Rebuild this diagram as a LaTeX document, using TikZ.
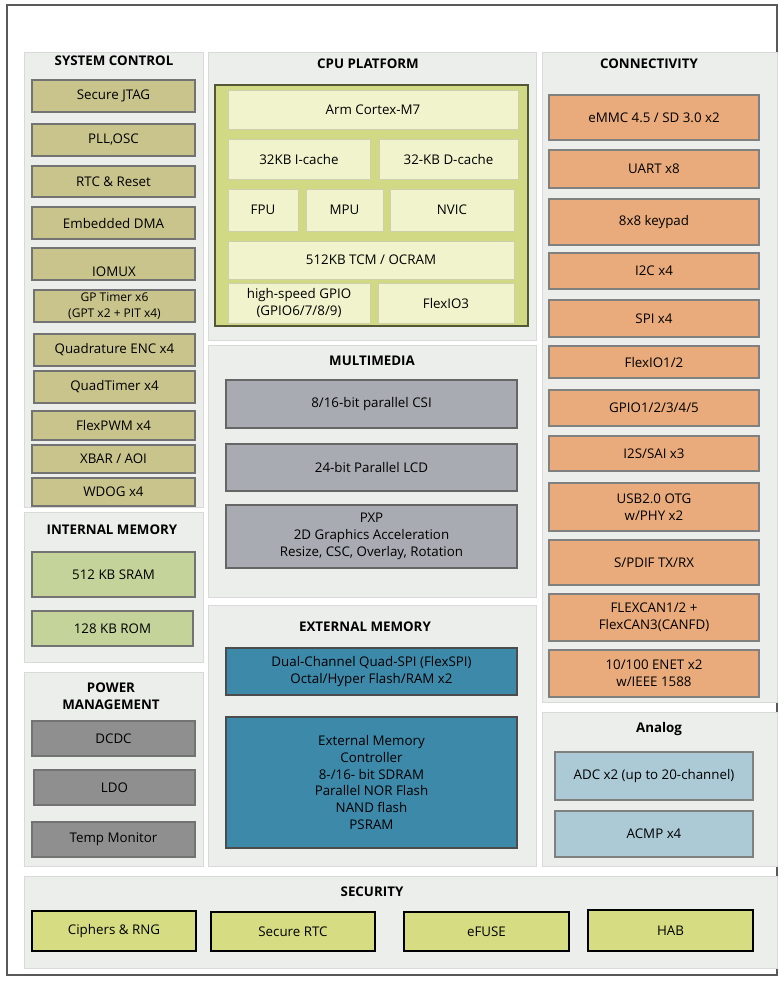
\documentclass[tikz,border=0pt]{standalone}
\usepackage{fontspec}
\setmainfont{Open Sans}
\definecolor{panel}{HTML}{ECEEEC}
\definecolor{sysc}{HTML}{C9C48C}
\definecolor{memc}{HTML}{C3D39A}
\definecolor{pwrc}{HTML}{8F8F8F}
\definecolor{cpuo}{HTML}{D2D985}
\definecolor{cpui}{HTML}{F1F3CC}
\definecolor{mmc}{HTML}{A8ABB2}
\definecolor{extc}{HTML}{3D89AA}
\definecolor{conc}{HTML}{E9AB7B}
\definecolor{anc}{HTML}{ABCAD6}
\definecolor{secc}{HTML}{D5DC82}
\newcommand{\bx}[7]{\node[#6, minimum width={(#4-#2)*0.75pt}, minimum height={(#5-#3)*0.75pt}, inner sep=0pt, align=center] (#1) at ({(#2+#4)/2},{(#3+#5)/2}) {#7};}
\begin{document}
\begin{tikzpicture}[x=0.75pt,y=-0.75pt,font=\fontsize{10}{12.5}\selectfont,
 pan/.style={fill=panel,draw=white!85!black,line width=0.6pt},
 ttl/.style={font=\fontsize{10}{12.5}\selectfont\bfseries,align=center},
 sys/.style={fill=sysc,draw=black!55,line width=1pt},
 mem/.style={fill=memc,draw=black!55,line width=1pt},
 pwr/.style={fill=pwrc,draw=black!55,line width=1pt},
 cpi/.style={fill=cpui,draw=cpui!85!black,line width=0.6pt},
 mm/.style={fill=mmc,draw=black!60,line width=0.8pt},
 ext/.style={fill=extc,draw=black!70,line width=0.8pt},
 con/.style={fill=conc,draw=black!50,line width=0.8pt},
 an/.style={fill=anc,draw=black!50,line width=0.8pt},
 sec/.style={fill=secc,draw=black,line width=2.2pt}]
\useasboundingbox (0,0) rectangle (784,982);
\fill[white] (0,0) rectangle (784,982);
\draw[black!65,line width=1.5pt] (7,5) rectangle (777,975);
% panels
\bx{psys}{24}{52}{203}{507}{pan}{}
\bx{pim}{24}{512}{203}{662}{pan}{}
\bx{ppw}{24}{672}{203}{866}{pan}{}
\bx{pcpu}{208}{52}{536}{340}{pan}{}
\bx{pmm}{208}{345}{536}{597}{pan}{}
\bx{pext}{208}{605}{536}{866}{pan}{}
\bx{pcon}{542}{52}{777}{702}{pan}{}
\bx{pan}{542}{712}{777}{866}{pan}{}
\bx{psec}{24}{876}{777}{968}{pan}{}
% titles
\node[ttl] (t1) at (114,61) {SYSTEM CONTROL};
\node[ttl] (t2) at (112,530) {INTERNAL MEMORY};
\node[ttl] (t3) at (111,696) {POWER\\MANAGEMENT};
\node[ttl] (t4) at (368,64) {CPU PLATFORM};
\node[ttl] (t5) at (372,361) {MULTIMEDIA};
\node[ttl] (t6) at (365,627) {EXTERNAL MEMORY};
\node[ttl] (t7) at (649,64) {CONNECTIVITY};
\node[ttl] (t8) at (659,729) {Analog};
\node[ttl] (t9) at (372,892) {SECURITY};
% system control
\bx{s1}{32}{80}{195}{112}{sys}{Secure JTAG}
\bx{s2}{32}{124}{195}{156}{sys}{PLL,OSC}
\bx{s3}{32}{166}{195}{197}{sys}{RTC \& Reset}
\bx{s4}{32}{207}{195}{239}{sys}{Embedded DMA}
\bx{s5}{32}{248}{195}{280}{sys}{}
\node (s5t) at (114,272) {IOMUX};
\bx{s6}{34}{290}{195}{322}{sys}{\fontsize{9}{11}\selectfont GP Timer x6\\\fontsize{9}{11}\selectfont(GPT x2 + PIT x4)}
\bx{s7}{34}{334}{195}{366}{sys}{Quadrature ENC x4}
\bx{s8}{34}{371}{195}{403}{sys}{QuadTimer x4}
\bx{s9}{32}{411}{195}{440}{sys}{FlexPWM x4}
\bx{s10}{32}{445}{195}{473}{sys}{XBAR / AOI}
\bx{s11}{32}{478}{195}{506}{sys}{WDOG x4}
% internal memory
\bx{m1}{32}{552}{195}{597}{mem}{512 KB SRAM}
\bx{m2}{32}{611}{193}{646}{mem}{128 KB ROM}
% power
\bx{w1}{32}{721}{195}{756}{pwr}{DCDC}
\bx{w2}{34}{770}{195}{805}{pwr}{LDO}
\bx{w3}{32}{822}{195}{857}{pwr}{Temp Monitor}
% cpu
\bx{cpo}{215}{85}{528}{326}{fill=cpuo,draw=black!60!cpuo,line width=2pt}{}
\bx{c1}{228}{90}{518}{129}{cpi}{Arm Cortex-M7}
\bx{c2}{228}{139}{370}{179}{cpi}{32KB I-cache}
\bx{c3}{379}{139}{518}{179}{cpi}{32-KB D-cache}
\bx{c4}{228}{189}{298}{231}{cpi}{FPU}
\bx{c5}{306}{189}{383}{231}{cpi}{MPU}
\bx{c6}{390}{189}{514}{231}{cpi}{NVIC}
\bx{c7}{228}{241}{514}{279}{cpi}{512KB TCM / OCRAM}
\bx{c8}{228}{283}{370}{323}{cpi}{high-speed GPIO\\(GPIO6/7/8/9)}
\bx{c9}{378}{283}{514}{323}{cpi}{FlexIO3}
% multimedia
\bx{u1}{226}{380}{517}{428}{mm}{8/16-bit parallel CSI}
\bx{u2}{226}{444}{517}{491}{mm}{24-bit Parallel LCD}
\bx{u3}{226}{505}{517}{568}{mm}{PXP\\2D Graphics Acceleration\\Resize, CSC, Overlay, Rotation}
% external memory
\bx{e1}{226}{648}{517}{695}{ext}{Dual-Channel Quad-SPI (FlexSPI)\\Octal/Hyper Flash/RAM x2}
\bx{e2}{226}{717}{517}{848}{ext}{External Memory\\Controller\\8-/16- bit SDRAM\\Parallel NOR Flash\\NAND flash\\PSRAM}
% connectivity
\bx{n1}{549}{95}{759}{140}{con}{eMMC 4.5 / SD 3.0 x2}
\bx{n2}{549}{150}{759}{188}{con}{UART x8}
\bx{n3}{549}{199}{759}{245}{con}{8x8 keypad}
\bx{n4}{549}{253}{759}{289}{con}{I2C x4}
\bx{n5}{549}{300}{759}{337}{con}{SPI x4}
\bx{n6}{549}{346}{759}{378}{con}{FlexIO1/2}
\bx{n7}{549}{390}{759}{426}{con}{GPIO1/2/3/4/5}
\bx{n8}{549}{436}{759}{471}{con}{I2S/SAI x3}
\bx{n9}{549}{483}{759}{531}{con}{USB2.0 OTG\\w/PHY x2}
\bx{n10}{549}{540}{759}{585}{con}{S/PDIF TX/RX}
\bx{n11}{549}{594}{759}{641}{con}{FLEXCAN1/2 +\\FlexCAN3(CANFD)}
\bx{n12}{549}{650}{759}{697}{con}{10/100 ENET x2\\w/IEEE 1588}
% analog
\bx{a1}{555}{752}{753}{800}{an}{ADC x2 (up to 20-channel)}
\bx{a2}{555}{811}{753}{857}{an}{ACMP x4}
% security
\bx{x1}{32}{911}{196}{951}{sec}{Ciphers \& RNG}
\bx{x2}{211}{912}{375}{951}{sec}{Secure RTC}
\bx{x3}{404}{912}{569}{951}{sec}{eFUSE}
\bx{x4}{588}{910}{753}{951}{sec}{HAB}
\end{tikzpicture}
\end{document}
